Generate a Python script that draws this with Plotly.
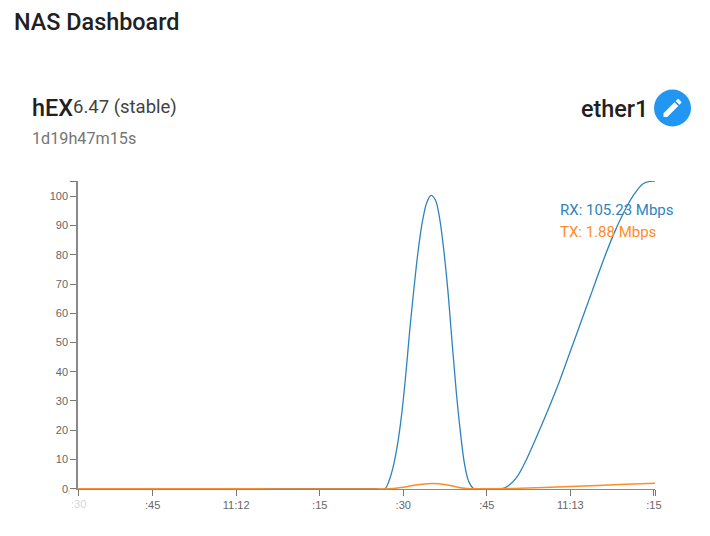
import plotly.graph_objects as go

# seconds since 11:11:30
rx_time = [1.6, 20, 40, 55, 56.7, 57.5, 58.25, 59, 59.75, 60.5, 61.25, 62, 62.75, 63.5, 64.25, 65, 65.75, 66.5, 67.25,
           68, 68.75, 69.5, 70.25, 71, 71.75, 72.7, 75, 77.8, 79, 80.4, 82, 84, 86, 88, 90, 92, 94, 96, 98, 100,
           101.5, 103, 104.3, 105.2]
rx_vals = [0, 0, 0, 0, 0, 3, 8, 15.5, 26, 40, 56, 70, 82.5, 92, 98, 100.3, 98.8, 92.8, 82,
           68, 50.5, 33.5, 19.5, 8.5, 2.5, 0, 0, 0, 1.2, 4.0, 9.5, 18, 27, 36.5, 47, 57.5, 68, 78.5, 88, 96,
           100.8, 104.2, 105.1, 105.23]
tx_time = [1.6, 30, 57.6, 60, 62, 65, 68, 70, 72, 76, 80, 90, 100, 105.2]
tx_vals = [0, 0, 0, 0.5, 1.2, 1.8, 1.3, 0.4, 0, 0, 0.1, 0.75, 1.5, 1.88]

x_ticks = [1.6, 15, 30, 45, 60, 75, 90, 105, 105.2]
x_labels = ['', ':45', '11:12', ':15', ':30', ':45', '11:13', ':15', '']
y_ticks = [0, 10, 20, 30, 40, 50, 60, 70, 80, 90, 100, 105.23]
y_labels = ['0', '10', '20', '30', '40', '50', '60', '70', '80', '90', '100', '']

W, H = 710, 536
L, R, T, B = 78, 655, 181, 489


def px(x):
    return (x - L) / (R - L)


def py(y):
    return (B - y) / (B - T)


fig = go.Figure()
fig.add_trace(go.Scatter(x=rx_time, y=rx_vals, mode='lines', cliponaxis=False,
                         line=dict(color='#2f83bd', width=1.3, shape='spline', smoothing=1)))
fig.add_trace(go.Scatter(x=tx_time, y=tx_vals, mode='lines', cliponaxis=False,
                         line=dict(color='#ff8c2a', width=1.5, shape='spline', smoothing=0.7)))


def label(x, y, text, size, color, anchor='left', weight=400):
    fig.add_annotation(xref='paper', yref='paper', x=px(x), y=py(y), text=text, showarrow=False, xanchor=anchor,
                       yanchor='middle', borderpad=0,
                       font=dict(family='Roboto', size=size, color=color, weight=weight))


label(13, 22, 'NAS Dashboard', 23.4, '#212121', weight=500)
label(31, 108, 'hEX', 23.4, '#212121', weight=500)
label(72, 107, '6.47 (stable)', 18.5, '#424242')
label(31, 138, '1d19h47m15s', 16.2, '#757575')
label(649, 109, 'ether1', 23.4, '#212121', anchor='right', weight=500)
label(558.5, 210, 'RX: 105.23 Mbps', 15, '#2f83bd')
label(558.5, 232, 'TX: 1.88 Mbps', 15, '#ff8c2a')

# faded first tick that fell off the left side of the axis
fig.add_annotation(xref='paper', yref='paper', x=px(69), y=py(504), text=':30', showarrow=False, yanchor='middle',
                   font=dict(family='Liberation Sans', size=11, color='#d5d5d5'))
fig.add_shape(type='line', xref='paper', yref='paper', x0=px(69), x1=px(69), y0=py(489), y1=py(495),
              line=dict(color='#dddddd', width=1))

# edit button
fig.add_shape(type='circle', xref='paper', yref='paper', x0=px(654), x1=px(691), y0=py(89.5), y1=py(126.5),
              fillcolor='#2196f3', line=dict(width=0))
fig.add_shape(type='path', xref='paper', yref='paper', xsizemode='pixel', ysizemode='pixel', xanchor=px(672.5), yanchor=py(108),
              path='M-9 -5.25 V-9 H-5.25 L5.81 2.06 L2.06 5.81 Z '
                   'M8.71 4.96 C9.1 5.35 9.1 5.98 8.71 6.37 L6.37 8.71 C5.98 9.1 5.35 9.1 4.96 8.71 L3.13 6.88 L6.88 3.13 Z',
              fillcolor='white', line=dict(width=0))

axis_style = dict(showgrid=False, zeroline=False, showline=True, linecolor='#8a8a8a', ticks='outside',
                  ticklen=6, tickwidth=1, tickcolor='#777777', tickmode='array',
                  tickfont=dict(family='Liberation Sans', size=11, color='#666666'))
fig.update_xaxes(range=[1.6, 105.2], tickvals=x_ticks, ticktext=x_labels, linewidth=1, **axis_style)
fig.update_yaxes(range=[-0.1, 105.23], tickvals=y_ticks, ticktext=y_labels, linewidth=1.5, **axis_style)
fig.update_layout(width=W, height=H, showlegend=False, plot_bgcolor='white', paper_bgcolor='white',
                  margin=dict(l=L, r=W - R, t=T, b=H - B))

fig.write_html("out.html", post_script="document.body.style.margin='0';", config=dict(displayModeBar=False))
